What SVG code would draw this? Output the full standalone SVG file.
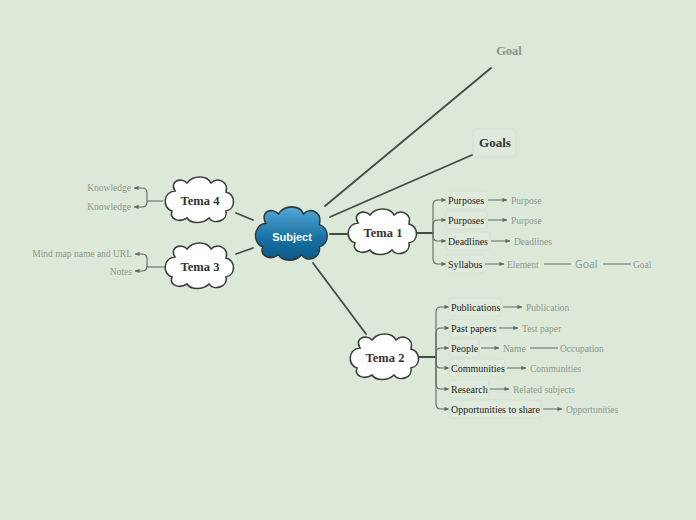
<svg xmlns="http://www.w3.org/2000/svg" width="696" height="520" viewBox="0 0 696 520">
<defs>
<linearGradient id="subj" x1="0" y1="0" x2="0" y2="1">
<stop offset="0" stop-color="#55a8d6"/>
<stop offset="0.6" stop-color="#1670a3"/>
<stop offset="1" stop-color="#0a5a88"/>
</linearGradient>
<marker id="ar" viewBox="0 0 6 6" refX="5.5" refY="3" markerWidth="5" markerHeight="5" orient="auto" markerUnits="userSpaceOnUse">
<path d="M0,0.5 L6,3 L0,5.5 Z" fill="#5f6d62"/>
</marker>
<path id="cloud" d="M-24,-10 C-30,-20 -18,-24 -12,-18 C-6,-26 8,-26 12,-18 C18,-24 30,-20 27,-9 C37,-6 37,8 27,10 C29,20 15,24 10,17 C4,23 -8,23 -12,17 C-20,22 -30,18 -27,10 C-37,7 -36,-9 -24,-10 Z"/>
</defs>
<style>
.main{stroke:#3f4d44;stroke-width:1.8;fill:none;stroke-linecap:round}
.br{stroke:#5f6d62;stroke-width:1.1;fill:none}
.ln{stroke:#5f6d62;stroke-width:1;fill:none}
.bk{font-family:"Liberation Serif",serif;font-size:10px;fill:#1e2420}
.gr{font-family:"Liberation Serif",serif;font-size:9.5px;fill:#8c9a8d}
.tema{font-family:"Liberation Serif",serif;font-size:12.5px;font-weight:bold;fill:#333}
.box{fill:#dfeadc;stroke:#d2e0cf;stroke-width:0.8}
.cl{fill:#fff;stroke:#3a3f3c;stroke-width:1.6}
</style>
<rect width="696" height="520" fill="#dce8d8"/>

<g id="connectors">
<line class="main" x1="325" y1="206" x2="491" y2="68"/>
<line class="main" x1="330" y1="217" x2="472" y2="155"/>
<line class="main" x1="330" y1="234" x2="347" y2="234"/>
<line class="main" x1="313" y1="263" x2="366" y2="334"/>
<line class="main" x1="253" y1="220" x2="236" y2="213"/>
<line class="main" x1="253" y1="248" x2="236" y2="254"/>
<!-- Tema 1 bracket -->
<path class="main" d="M417,233 H433" stroke-width="1.6"/>
<path class="br" marker-end="url(#ar)" d="M433,233 V205 Q433,200 438,200 H446"/>
<path class="br" marker-end="url(#ar)" d="M433,233 V225 Q433,220 438,220 H446"/>
<path class="br" marker-end="url(#ar)" d="M433,233 V236 Q433,241 438,241 H446"/>
<path class="br" marker-end="url(#ar)" d="M433,233 V259 Q433,264 438,264 H446"/>
<!-- Tema 2 bracket -->
<path class="main" d="M419,357 H436" stroke-width="1.6"/>
<path class="br" marker-end="url(#ar)" d="M436,357 V312 Q436,307 441,307 H449"/>
<path class="br" marker-end="url(#ar)" d="M436,357 V333 Q436,328 441,328 H449"/>
<path class="br" marker-end="url(#ar)" d="M436,357 V353 Q436,348 441,348 H449"/>
<path class="br" marker-end="url(#ar)" d="M436,357 V363 Q436,368 441,368 H449"/>
<path class="br" marker-end="url(#ar)" d="M436,357 V384 Q436,389 441,389 H449"/>
<path class="br" marker-end="url(#ar)" d="M436,357 V404 Q436,409 441,409 H449"/>
<!-- Tema 4 bracket -->
<path class="br" d="M163,201 H147" stroke-width="1.3"/>
<path class="br" marker-end="url(#ar)" d="M147,201 V193 Q147,188 142,188 H134"/>
<path class="br" marker-end="url(#ar)" d="M147,201 V202 Q147,207 142,207 H134"/>
<!-- Tema 3 bracket -->
<path class="br" d="M164,267 H147" stroke-width="1.3"/>
<path class="br" marker-end="url(#ar)" d="M147,267 V259 Q147,254 142,254 H135"/>
<path class="br" marker-end="url(#ar)" d="M147,267 V266 Q147,271 142,271 H135"/>
<!-- leaf arrows Tema 1 -->
<line class="ln" marker-end="url(#ar)" x1="488" y1="200" x2="507" y2="200"/>
<line class="ln" marker-end="url(#ar)" x1="488" y1="220" x2="507" y2="220"/>
<line class="ln" marker-end="url(#ar)" x1="491" y1="241" x2="510" y2="241"/>
<line class="ln" marker-end="url(#ar)" x1="485" y1="264" x2="504" y2="264"/>
<line class="ln" x1="544" y1="264" x2="571" y2="264"/>
<line class="ln" x1="603" y1="264" x2="631" y2="264"/>
<!-- leaf arrows Tema 2 -->
<line class="ln" marker-end="url(#ar)" x1="503" y1="307" x2="522" y2="307"/>
<line class="ln" marker-end="url(#ar)" x1="499" y1="328" x2="518" y2="328"/>
<line class="ln" marker-end="url(#ar)" x1="481" y1="348" x2="499" y2="348"/>
<line class="ln" x1="530" y1="348" x2="558" y2="348"/>
<line class="ln" marker-end="url(#ar)" x1="507" y1="368" x2="526" y2="368"/>
<line class="ln" marker-end="url(#ar)" x1="490" y1="389" x2="509" y2="389"/>
<line class="ln" marker-end="url(#ar)" x1="543" y1="409" x2="562" y2="409"/>
</g>

<g id="subject">
<use href="#cloud" transform="translate(291,235) scale(1.05,1.17)" fill="url(#subj)" stroke="#2c3a3c" stroke-width="1.4"/>
<text x="292" y="241" text-anchor="middle" font-family="Liberation Sans,sans-serif" font-size="11" font-weight="bold" fill="#fff">Subject</text>
</g>

<g id="goal">
<text x="509" y="55" text-anchor="middle" font-family="Liberation Serif,serif" font-size="12.5" font-weight="bold" fill="#8a978b">Goal</text>
</g>
<g id="goals">
<rect class="box" x="473" y="129" width="43" height="28" rx="4"/>
<text x="495" y="147" text-anchor="middle" font-family="Liberation Serif,serif" font-size="13" font-weight="bold" fill="#333">Goals</text>
</g>

<g id="tema1">
<use href="#cloud" class="cl" transform="translate(382,233)"/>
<text class="tema" x="383" y="237" text-anchor="middle">Tema 1</text>
</g>
<g id="tema2">
<use href="#cloud" class="cl" transform="translate(384,358)"/>
<text class="tema" x="385" y="362" text-anchor="middle">Tema 2</text>
</g>
<g id="tema3">
<use href="#cloud" class="cl" transform="translate(199,267)"/>
<text class="tema" x="200" y="271" text-anchor="middle">Tema 3</text>
</g>
<g id="tema4">
<use href="#cloud" class="cl" transform="translate(199,201)"/>
<text class="tema" x="200" y="205" text-anchor="middle">Tema 4</text>
</g>

<g id="t1-children">
<rect class="box" x="446" y="191" width="41" height="18" rx="3"/>
<text class="bk" x="448" y="203.5">Purposes</text>
<text class="gr" x="511" y="203.5">Purpose</text>
<rect class="box" x="446" y="211" width="41" height="18" rx="3"/>
<text class="bk" x="448" y="223.5">Purposes</text>
<text class="gr" x="511" y="223.5">Purpose</text>
<rect class="box" x="446" y="232" width="44" height="18" rx="3"/>
<text class="bk" x="448" y="244.5">Deadlines</text>
<text class="gr" x="514" y="244.5">Deadlines</text>
<rect class="box" x="446" y="255" width="38" height="18" rx="3"/>
<text class="bk" x="448" y="267.5">Syllabus</text>
<text class="gr" x="507" y="267.5">Element</text>
<text x="575" y="268" font-family="Open Sans,sans-serif" font-size="10.5" fill="#8c9a8d">Goal</text>
<text class="gr" x="633" y="267.5">Goal</text>
</g>

<g id="t2-children">
<rect class="box" x="449" y="298" width="52" height="18" rx="3"/>
<text class="bk" x="451" y="310.5">Publications</text>
<text class="gr" x="526" y="310.5">Publication</text>
<rect class="box" x="449" y="319" width="48" height="18" rx="3"/>
<text class="bk" x="451" y="331.5">Past papers</text>
<text class="gr" x="522" y="331.5">Test paper</text>
<rect class="box" x="449" y="339" width="30" height="18" rx="3"/>
<text class="bk" x="451" y="351.5">People</text>
<text class="gr" x="503" y="351.5">Name</text>
<text class="gr" x="560" y="351.5">Occupation</text>
<rect class="box" x="449" y="359" width="56" height="18" rx="3"/>
<text class="bk" x="451" y="371.5">Communities</text>
<text class="gr" x="530" y="371.5">Communities</text>
<rect class="box" x="449" y="380" width="40" height="18" rx="3"/>
<text class="bk" x="451" y="392.5">Research</text>
<text class="gr" x="513" y="392.5">Related subjects</text>
<rect class="box" x="449" y="400" width="92" height="18" rx="3"/>
<text class="bk" x="451" y="412.5">Opportunities to share</text>
<text class="gr" x="566" y="412.5">Opportunities</text>
</g>

<g id="t4-children">
<text class="gr" x="131" y="191" text-anchor="end">Knowledge</text>
<text class="gr" x="131" y="210" text-anchor="end">Knowledge</text>
</g>
<g id="t3-children">
<text class="gr" x="132" y="257" text-anchor="end">Mind map name and URL</text>
<text class="gr" x="132" y="274.5" text-anchor="end">Notes</text>
</g>
</svg>
